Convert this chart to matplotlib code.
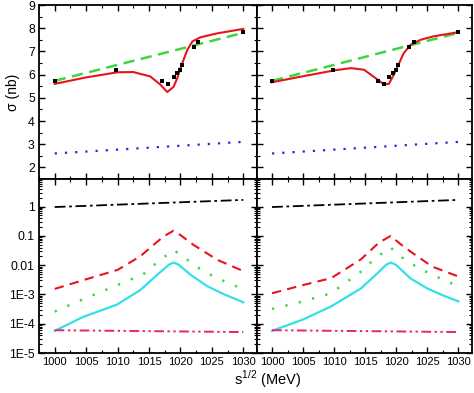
import matplotlib
matplotlib.use("Agg")
import matplotlib.pyplot as plt
from matplotlib.ticker import MultipleLocator, FixedLocator, FixedFormatter, LogLocator, NullFormatter

plt.rcParams['font.family'] = ['Liberation Sans', 'DejaVu Sans']

# ---------------- data ----------------
# top panels (sigma, nb)
data_x = [1000, 1009.8, 1017.1, 1018.0, 1018.9, 1019.5, 1019.9, 1020.3, 1022.1, 1022.8, 1030]
data_y = [5.72, 6.18, 5.71, 5.58, 5.88, 6.07, 6.21, 6.40, 7.21, 7.40, 7.83]

tl_red_x = [1000, 1005, 1010, 1012.5, 1015.2, 1016.8, 1017.9, 1018.9, 1019.5, 1020.3, 1021.1, 1021.9, 1023.2, 1025.9, 1030]
tl_red_y = [5.60, 5.88, 6.10, 6.11, 5.92, 5.57, 5.25, 5.47, 5.85, 6.50, 7.07, 7.43, 7.61, 7.78, 7.97]

tr_red_x = [1000, 1005, 1010, 1012.7, 1014.8, 1016.4, 1018.0, 1018.8, 1019.6, 1020.4, 1021.2, 1022.3, 1023.9, 1026, 1030]
tr_red_y = [5.67, 5.93, 6.18, 6.28, 6.21, 5.90, 5.58, 5.60, 6.00, 6.46, 6.93, 7.28, 7.50, 7.65, 7.83]

green_x = [1000, 1030]
green_y = [5.73, 7.80]
blue_x = [1000, 1030]
blue_y = [2.60, 3.10]

# bottom panels (log scale)
black_x = [1000, 1030]
black_y = [0.97, 1.70]
mag_x = [1000, 1030]
mag_y = [6.0e-5, 5.2e-5]

bl_red_x = [1000, 1005, 1010, 1013.6, 1015.7, 1017.3, 1018.9, 1020, 1022.1, 1025.9, 1030]
bl_red_y = [1.55e-3, 3.3e-3, 6.9e-3, 0.020, 0.049, 0.095, 0.151, 0.107, 0.049, 0.0151, 6.3e-3]
bl_grn_x = [1000, 1005, 1010, 1014.1, 1016.3, 1018.9, 1021, 1023.5, 1026, 1030]
bl_grn_y = [2.6e-4, 7.6e-4, 2.1e-3, 4.9e-3, 0.0126, 0.033, 0.0158, 6.5e-3, 3.5e-3, 1.5e-3]
bl_cyn_x = [1000, 1004.5, 1009.9, 1013.6, 1016.3, 1018.2, 1018.9, 1019.7, 1021.6, 1024.3, 1027, 1030]
bl_cyn_y = [5.7e-5, 1.7e-4, 4.5e-4, 1.4e-3, 4.7e-3, 0.0105, 0.0123, 0.0105, 4.7e-3, 1.9e-3, 1.0e-3, 5.4e-4]

br_red_x = [1000, 1005, 1009.5, 1014.3, 1017.2, 1019.1, 1020.5, 1022.3, 1025.8, 1030]
br_red_y = [1.1e-3, 2.1e-3, 3.6e-3, 0.0158, 0.059, 0.100, 0.056, 0.029, 8.9e-3, 4.1e-3]
br_grn_x = [1000, 1005, 1009.5, 1014.3, 1016.4, 1019.0, 1021, 1023.6, 1026.5, 1030]
br_grn_y = [3.2e-4, 5.8e-4, 1.1e-3, 6.0e-3, 0.0158, 0.041, 0.0178, 7.9e-3, 4.0e-3, 1.9e-3]
br_cyn_x = [1000, 1005, 1009.5, 1014.3, 1017, 1018.4, 1019.1, 1019.9, 1022.3, 1025, 1027.5, 1030]
br_cyn_y = [5.7e-5, 1.4e-4, 3.9e-4, 1.6e-3, 5.4e-3, 0.0105, 0.0123, 0.0105, 3.5e-3, 1.6e-3, 9.3e-4, 5.8e-4]

log_ticks = [1e-5, 1e-4, 1e-3, 1e-2, 1e-1, 1]
log_labels = ['1E-5', '1E-4', '1E-3', '0.01', '0.1', '1']
x_ticks = [1000, 1005, 1010, 1015, 1020, 1025, 1030]

# ---------------- figure ----------------
W, H = 474, 393
fig = plt.figure(figsize=(W / 100, H / 100), dpi=100)

L, M, R = 39 / W, 256.5 / W, 471.5 / W
T, MY, B = 1 - 5 / H, 1 - 179 / H, 1 - 353 / H

ax_tl = fig.add_axes([L, MY, M - L, T - MY])
ax_tr = fig.add_axes([M, MY, R - M, T - MY])
ax_bl = fig.add_axes([L, B, M - L, MY - B])
ax_br = fig.add_axes([M, B, R - M, MY - B])

RED = '#e8141c'
GREEN = '#3dd63d'
BLUE = '#2a2ad0'
CYAN = '#33e0e8'
MAG = '#e8207a'

for ax, rx, ry in [(ax_tl, tl_red_x, tl_red_y), (ax_tr, tr_red_x, tr_red_y)]:
    ax.plot(green_x, green_y, color=GREEN, lw=1.8, dashes=(4.5, 2.6))
    ax.plot(blue_x, blue_y, color=BLUE, lw=1.6, dashes=(1, 3.6))
    ax.plot(rx, ry, color=RED, lw=1.5)
    ax.plot(data_x, data_y, 's', color='black', ms=2.6, mew=0)
    ax.set_ylim(1.5, 9)
    ax.yaxis.set_major_locator(MultipleLocator(1))
    ax.yaxis.set_minor_locator(MultipleLocator(0.5))

for ax, rx, ry, gx, gy, cx, cy in [
        (ax_bl, bl_red_x, bl_red_y, bl_grn_x, bl_grn_y, bl_cyn_x, bl_cyn_y),
        (ax_br, br_red_x, br_red_y, br_grn_x, br_grn_y, br_cyn_x, br_cyn_y)]:
    ax.set_yscale('log')
    ax.plot(black_x, black_y, color='black', lw=1.3, dashes=(6, 2, 1.5, 2))
    ax.plot(rx, ry, color=RED, lw=1.5, dashes=(4.5, 3))
    ax.plot(gx, gy, color=GREEN, lw=1.8, dashes=(0.9, 4.6))
    ax.plot(cx, cy, color=CYAN, lw=1.6)
    ax.plot(mag_x, mag_y, color=MAG, lw=1.4, dashes=(5, 1.8, 1.2, 1.8, 1.2, 1.8))
    ax.set_ylim(1e-5, 8.8)
    ax.yaxis.set_major_locator(FixedLocator(log_ticks))
    ax.yaxis.set_major_formatter(FixedFormatter(log_labels))
    ax.yaxis.set_minor_locator(LogLocator(base=10, subs=range(2, 10), numticks=20))
    ax.yaxis.set_minor_formatter(NullFormatter())

for ax in [ax_tl, ax_tr, ax_bl, ax_br]:
    ax.set_xlim(997.5, 1032.1)
    ax.xaxis.set_major_locator(FixedLocator(x_ticks))
    ax.xaxis.set_minor_locator(MultipleLocator(2.5))
    ax.tick_params(which='both', direction='in', top=True, right=True, pad=3)
    ax.tick_params(axis='x', labelsize=8)
    ax.tick_params(axis='y', labelsize=8.8)
    ax.tick_params(which='major', length=4, width=1)
    ax.tick_params(which='minor', length=2, width=0.8)
    for s in ax.spines.values():
        s.set_linewidth(1.3)

for ax in [ax_tl, ax_tr]:
    ax.tick_params(labelbottom=False)
for ax in [ax_tr, ax_br]:
    ax.tick_params(labelleft=False)

ax_tl.set_ylabel('σ (nb)', fontsize=10, labelpad=6)
fig.text(268 / W, 1 - 379 / H, 's$^{\\mathregular{1/2}}$ (MeV)', fontsize=10.5,
         ha='center', va='center')

fig.savefig('out.png', dpi=100)
